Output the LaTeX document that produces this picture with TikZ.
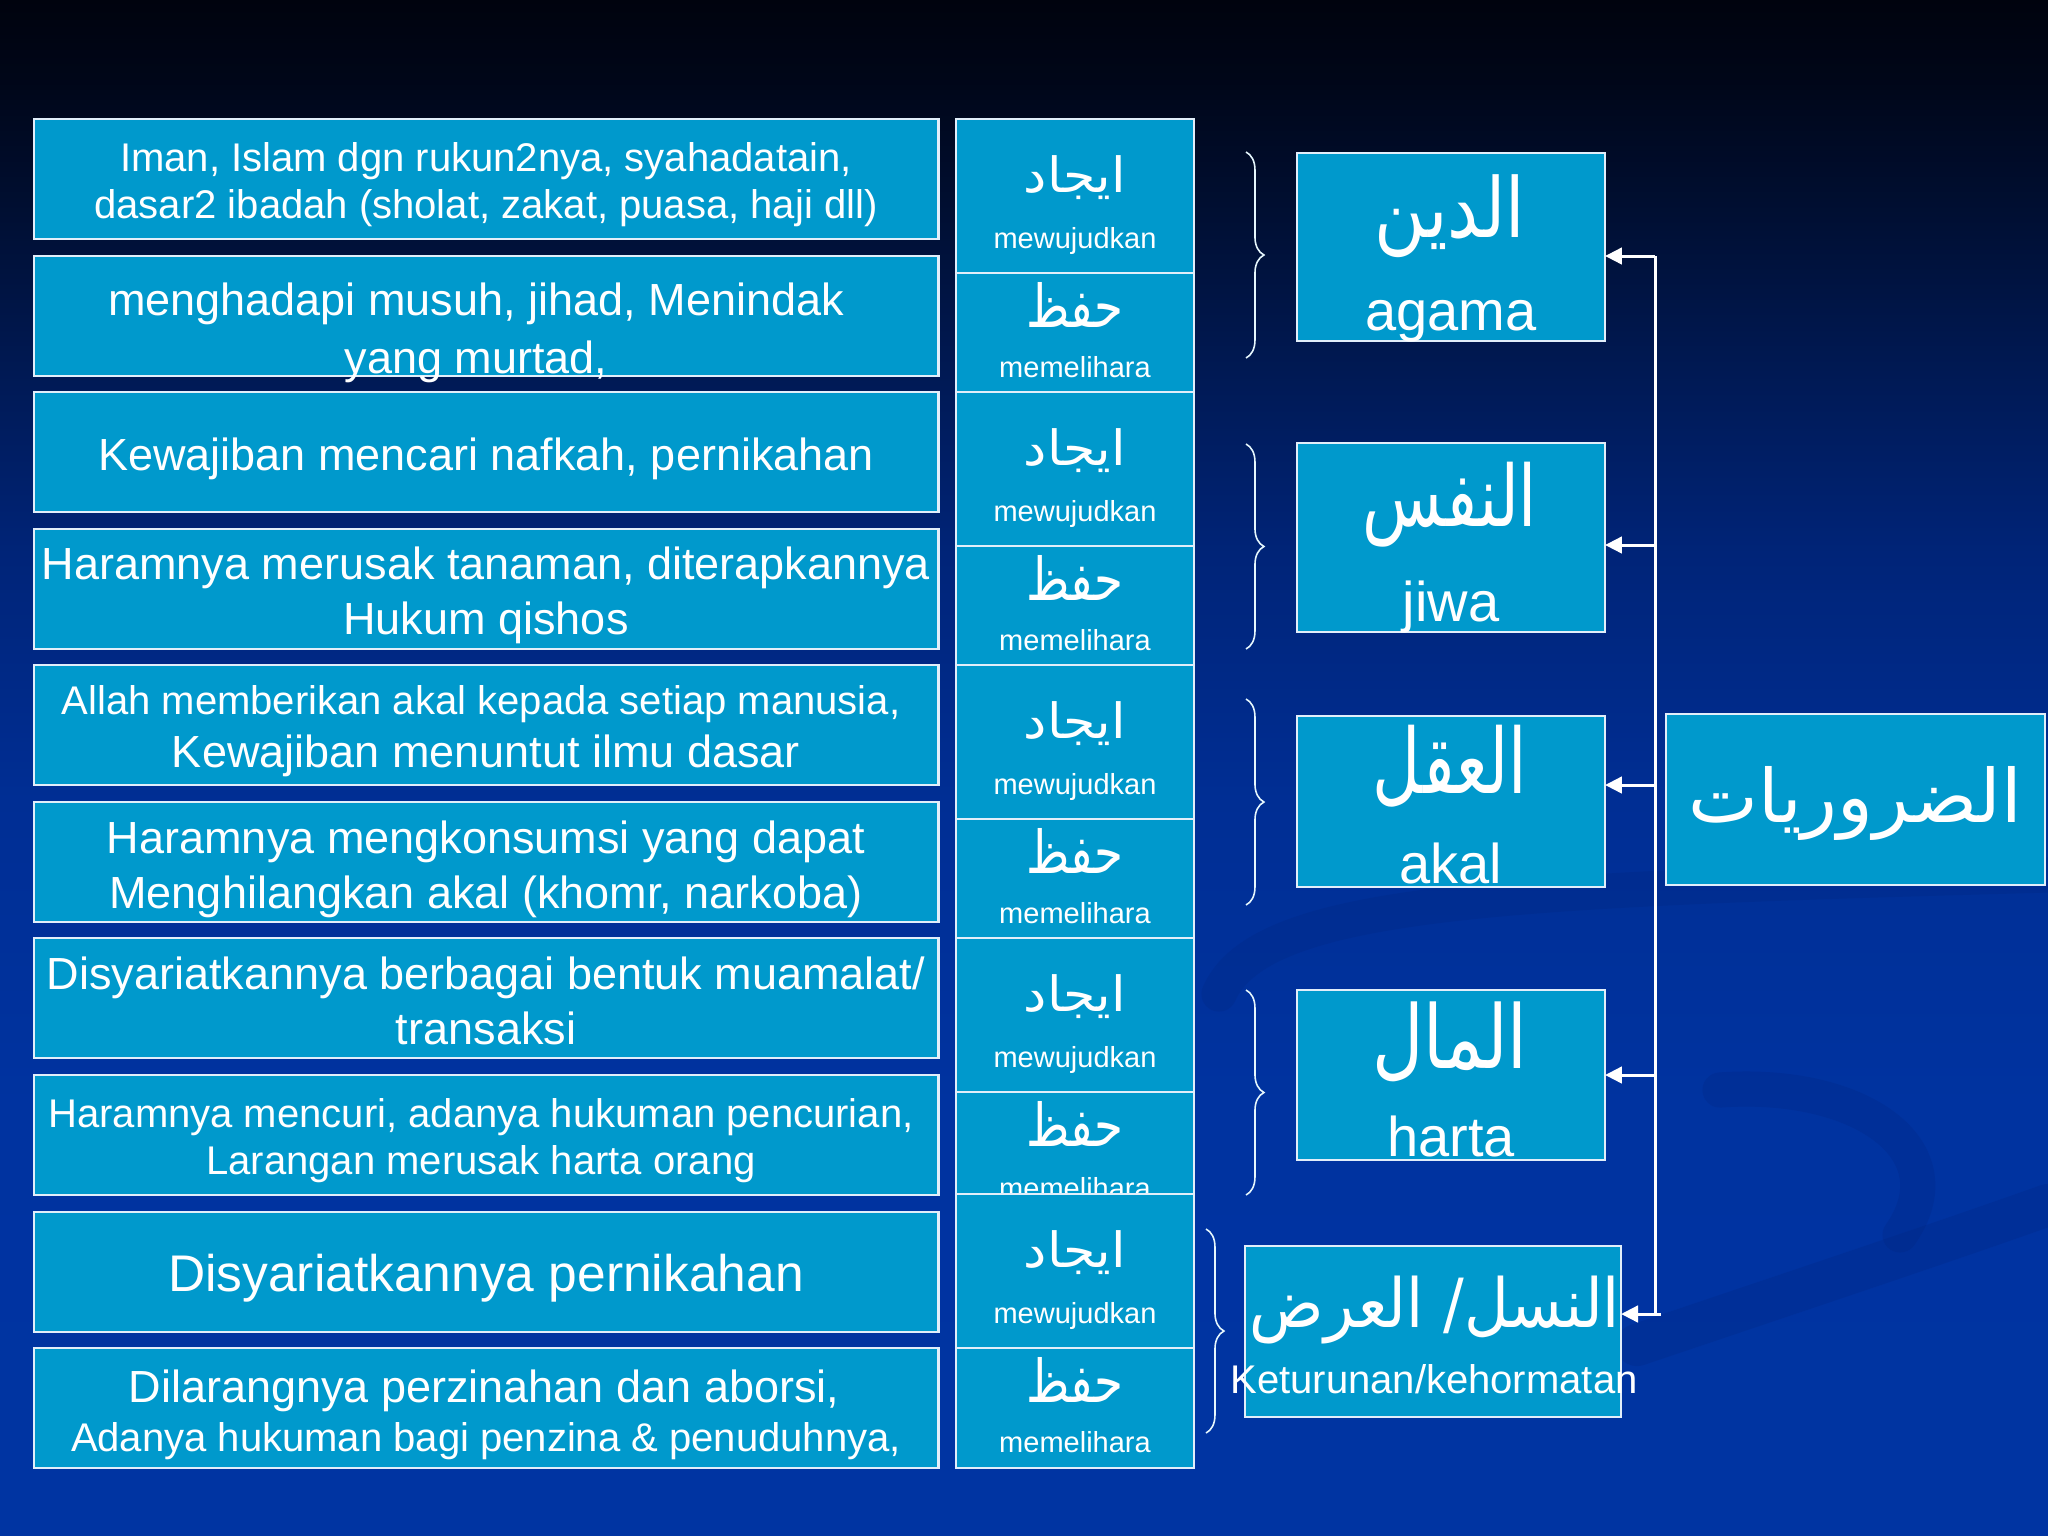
\documentclass[tikz,border=0pt]{standalone}
\usepackage{fontspec}
\usepackage{graphicx}
\setmainfont{Liberation Sans}
\newfontfamily\arabicfont[Script=Arabic]{DejaVu Sans}
\TeXXeTstate=1
\usetikzlibrary{arrows.meta,decorations.pathreplacing}
\definecolor{boxfill}{RGB}{0,153,204}
\definecolor{boxline}{RGB}{225,238,250}
\definecolor{bgA}{RGB}{0,3,14}
\definecolor{bgB}{RGB}{0,6,24}
\definecolor{bgC}{RGB}{0,14,48}
\definecolor{bgD}{RGB}{0,24,80}
\definecolor{bgE}{RGB}{0,36,120}
\definecolor{bgF}{RGB}{0,46,148}
\definecolor{bgG}{RGB}{0,51,160}
\definecolor{bgH}{RGB}{0,52,162}
\definecolor{swoo}{RGB}{0,34,120}
% the middle 50bp of the 100bp shading covers the path
\pgfdeclareverticalshading{bgshade}{100bp}{color(0bp)=(bgH); color(25bp)=(bgH); color(39bp)=(bgG); color(49bp)=(bgF); color(57bp)=(bgE); color(63.5bp)=(bgD); color(68.5bp)=(bgC); color(72.5bp)=(bgB); color(75bp)=(bgA); color(100bp)=(bgA)}
\newcommand\artxt[3]{\resizebox*{#1}{#2}{\arabicfont #3}}
\begin{document}
\begin{tikzpicture}[x=0.01cm,y=-0.01cm,
  box/.style={draw=boxline, line width=0.7pt, fill=boxfill, inner sep=0pt, outer sep=0pt},
  lbox/.style={box, minimum width=9.04cm, minimum height=1.20cm},
  mbox/.style={box, minimum width=2.38cm},
  rbox/.style={box, minimum width=3.08cm},
  txt/.style={text=white, inner sep=0pt, anchor=base},
  art/.style={text=white, inner sep=0pt, anchor=center},
  fA/.style={font=\fontsize{11.38}{13}\selectfont},
  fB/.style={font=\fontsize{12.8}{15}\selectfont},
  fC/.style={font=\fontsize{14.65}{18}\selectfont},
  fD/.style={font=\fontsize{15.93}{19}\selectfont},
  fE/.style={font=\fontsize{8.25}{10}\selectfont},
  brc/.style={draw=white!90!cyan, line width=0.45pt, decorate, decoration={brace, amplitude=5.1pt}},
  conn/.style={draw=white, line width=0.85pt},
  arr/.style={conn, -{Triangle[length=4.8pt,width=4.7pt]}},
  swoosh/.style={draw=swoo, opacity=0.2, line width=10pt, line cap=round}
]
\useasboundingbox (0,0) rectangle (2048,1536);
\shade[shading=bgshade] (0,0) rectangle (2048,1536);
% faint background swirl
\draw[swoosh] (1219,994) .. controls (1260,900) and (1500,890) .. (2048,875);
\draw[swoosh] (1720,1090) .. controls (1860,1080) and (1960,1150) .. (1900,1235);
\draw[swoosh, line width=12pt] (1637,1345) .. controls (1800,1290) and (1950,1240) .. (2048,1205);

% ---- left column ----
\node[lbox] (r1) at (486,179) {};
\node[txt,fA] (t1a) at (486,171) {Iman, Islam dgn rukun2nya, syahadatain,};
\node[txt,fA] (t1b) at (486,218) {dasar2 ibadah (sholat, zakat, puasa, haji dll)};
\node[lbox] (r2) at (486,316) {};
\node[txt,fB] (t2a) at (476,315) {menghadapi musuh, jihad, Menindak};
\node[txt,fB] (t2b) at (476,373) {yang murtad,};
\node[lbox] (r3) at (486,452) {};
\node[txt,fB] (t3a) at (486,470) {Kewajiban mencari nafkah, pernikahan};
\node[lbox] (r4) at (486,589) {};
\node[txt,fB] (t4a) at (486,579) {Haramnya merusak tanaman, diterapkannya};
\node[txt,fB] (t4b) at (486,634) {Hukum qishos};
\node[lbox] (r5) at (486,725) {};
\node[txt,fA] (t5a) at (481,714) {Allah memberikan akal kepada setiap manusia,};
\node[txt,fB] (t5b) at (486,767) {Kewajiban menuntut ilmu dasar};
\node[lbox] (r6) at (486,862) {};
\node[txt,fB] (t6a) at (486,853) {Haramnya mengkonsumsi yang dapat};
\node[txt,fB] (t6b) at (486,908) {Menghilangkan akal (khomr, narkoba)};
\node[lbox] (r7) at (486,998) {};
\node[txt,fB] (t7a) at (486,989) {Disyariatkannya berbagai bentuk muamalat/};
\node[txt,fB] (t7b) at (486,1044) {transaksi};
\node[lbox] (r8) at (486,1135) {};
\node[txt,fA] (t8a) at (481,1127) {Haramnya mencuri, adanya hukuman pencurian,};
\node[txt,fA] (t8b) at (481,1174) {Larangan merusak harta orang};
\node[lbox] (r9) at (486,1272) {};
\node[txt,fC] (t9a) at (486,1291) {Disyariatkannya pernikahan};
\node[lbox] (r10) at (486,1408) {};
\node[txt,fB] (t10a) at (484,1402) {Dilarangnya perzinahan dan aborsi,};
\node[txt,fA] (t10b) at (486,1451) {Adanya hukuman bagi penzina \& penuduhnya,};

% ---- middle column ----
\node[mbox, minimum height=1.54cm] (i1) at (1075,196) {};
\node[art] (i1a) at (1075,178) {\artxt{1.02cm}{0.44cm}{\beginR ايجاد\endR}};
\node[txt,fE] (i1b) at (1075,248) {mewujudkan};
\node[mbox, minimum height=1.19cm] (h1) at (1075,332.5) {};
\node[art] (h1a) at (1075,304.5) {\artxt{0.97cm}{0.45cm}{\beginR حفظ\endR}};
\node[txt,fE] (h1b) at (1075,377) {memelihara};

\node[mbox, minimum height=1.54cm] (i2) at (1075,469) {};
\node[art] (i2a) at (1075,451) {\artxt{1.02cm}{0.44cm}{\beginR ايجاد\endR}};
\node[txt,fE] (i2b) at (1075,521) {mewujudkan};
\node[mbox, minimum height=1.19cm] (h2) at (1075,605.5) {};
\node[art] (h2a) at (1075,577.5) {\artxt{0.97cm}{0.45cm}{\beginR حفظ\endR}};
\node[txt,fE] (h2b) at (1075,650) {memelihara};

\node[mbox, minimum height=1.54cm] (i3) at (1075,742) {};
\node[art] (i3a) at (1075,724) {\artxt{1.02cm}{0.44cm}{\beginR ايجاد\endR}};
\node[txt,fE] (i3b) at (1075,794) {mewujudkan};
\node[mbox, minimum height=1.19cm] (h3) at (1075,878.5) {};
\node[art] (h3a) at (1075,850.5) {\artxt{0.97cm}{0.45cm}{\beginR حفظ\endR}};
\node[txt,fE] (h3b) at (1075,923) {memelihara};

\node[mbox, minimum height=1.54cm] (i4) at (1075,1015) {};
\node[art] (i4a) at (1075,997) {\artxt{1.02cm}{0.44cm}{\beginR ايجاد\endR}};
\node[txt,fE] (i4b) at (1075,1067) {mewujudkan};
\node[mbox, minimum height=1.20cm] (h4) at (1075,1152) {};
\node[art] (h4a) at (1075,1123.5) {\artxt{0.97cm}{0.45cm}{\beginR حفظ\endR}};
\node[txt,fE] (h4b) at (1075,1198) {memelihara};

\node[mbox, minimum height=1.54cm] (i5) at (1075,1271) {};
\node[art] (i5a) at (1075,1253) {\artxt{1.02cm}{0.44cm}{\beginR ايجاد\endR}};
\node[txt,fE] (i5b) at (1075,1323) {mewujudkan};
\node[mbox, minimum height=1.20cm] (h5) at (1075,1408) {};
\node[art] (h5a) at (1075,1379.5) {\artxt{0.97cm}{0.45cm}{\beginR حفظ\endR}};
\node[txt,fE] (h5b) at (1075,1452) {memelihara};

% ---- braces ----
\draw[brc] (1246,152) -- (1246,358);
\draw[brc] (1246,444) -- (1246,649);
\draw[brc] (1246,699) -- (1246,905);
\draw[brc] (1246,990) -- (1246,1195);
\draw[brc] (1206,1229) -- (1206,1433);

% ---- right column ----
\node[rbox, minimum height=1.88cm] (agama) at (1451,247) {};
\node[art] (agamaA) at (1450,216.5) {\artxt{1.50cm}{0.83cm}{\beginR الدين\endR}};
\node[txt,fD] (agamaL) at (1451,330) {agama};
\node[rbox, minimum height=1.89cm] (jiwa) at (1451,537.5) {};
\node[art] (jiwaA) at (1450,505) {\artxt{1.74cm}{0.85cm}{\beginR النفس\endR}};
\node[txt,fD] (jiwaL) at (1451,621) {jiwa};
\node[rbox, minimum height=1.71cm] (akal) at (1451,801.5) {};
\node[art] (akalA) at (1450,766) {\artxt{1.54cm}{0.82cm}{\beginR العقل\endR}};
\node[txt,fD] (akalL) at (1451,883) {akal};
\node[rbox, minimum height=1.70cm] (harta) at (1451,1075) {};
\node[art] (hartaA) at (1450,1042) {\artxt{1.55cm}{0.80cm}{\beginR المال\endR}};
\node[txt,fD] (hartaL) at (1451,1156) {harta};
\node[box, minimum width=3.76cm, minimum height=1.71cm] (nasl) at (1433,1331.5) {};
\node[art] (naslA) at (1435,1310) {\artxt{3.70cm}{0.68cm}{\beginR النسل/ العرض\endR}};
\node[txt,fA] (naslL) at (1434,1393) {Keturunan/kehormatan};
\node[box, minimum width=3.79cm, minimum height=1.71cm] (daru) at (1855.5,799.5) {};
\node[art] (daruA) at (1855.5,803) {\artxt{3.33cm}{0.74cm}{\beginR الضروريات\endR}};

% ---- connectors ----
\coordinate (sp1) at (1655,256);
\coordinate (sp2) at (1655,545);
\coordinate (sp3) at (1655,785);
\coordinate (sp4) at (1655,1075);
\coordinate (sp5) at (1655,1314);
\coordinate (sp5e) at (1661,1314);
\draw[conn] (sp1) -- (sp5);
\draw[arr] (sp1) -- (sp1 -| agama.east);
\draw[arr] (sp2) -- (sp2 -| jiwa.east);
\draw[arr] (sp3) -- (sp3 -| akal.east);
\draw[arr] (sp4) -- (sp4 -| harta.east);
\draw[arr] (sp5e) -- (sp5e -| nasl.east);
\end{tikzpicture}
\end{document}
